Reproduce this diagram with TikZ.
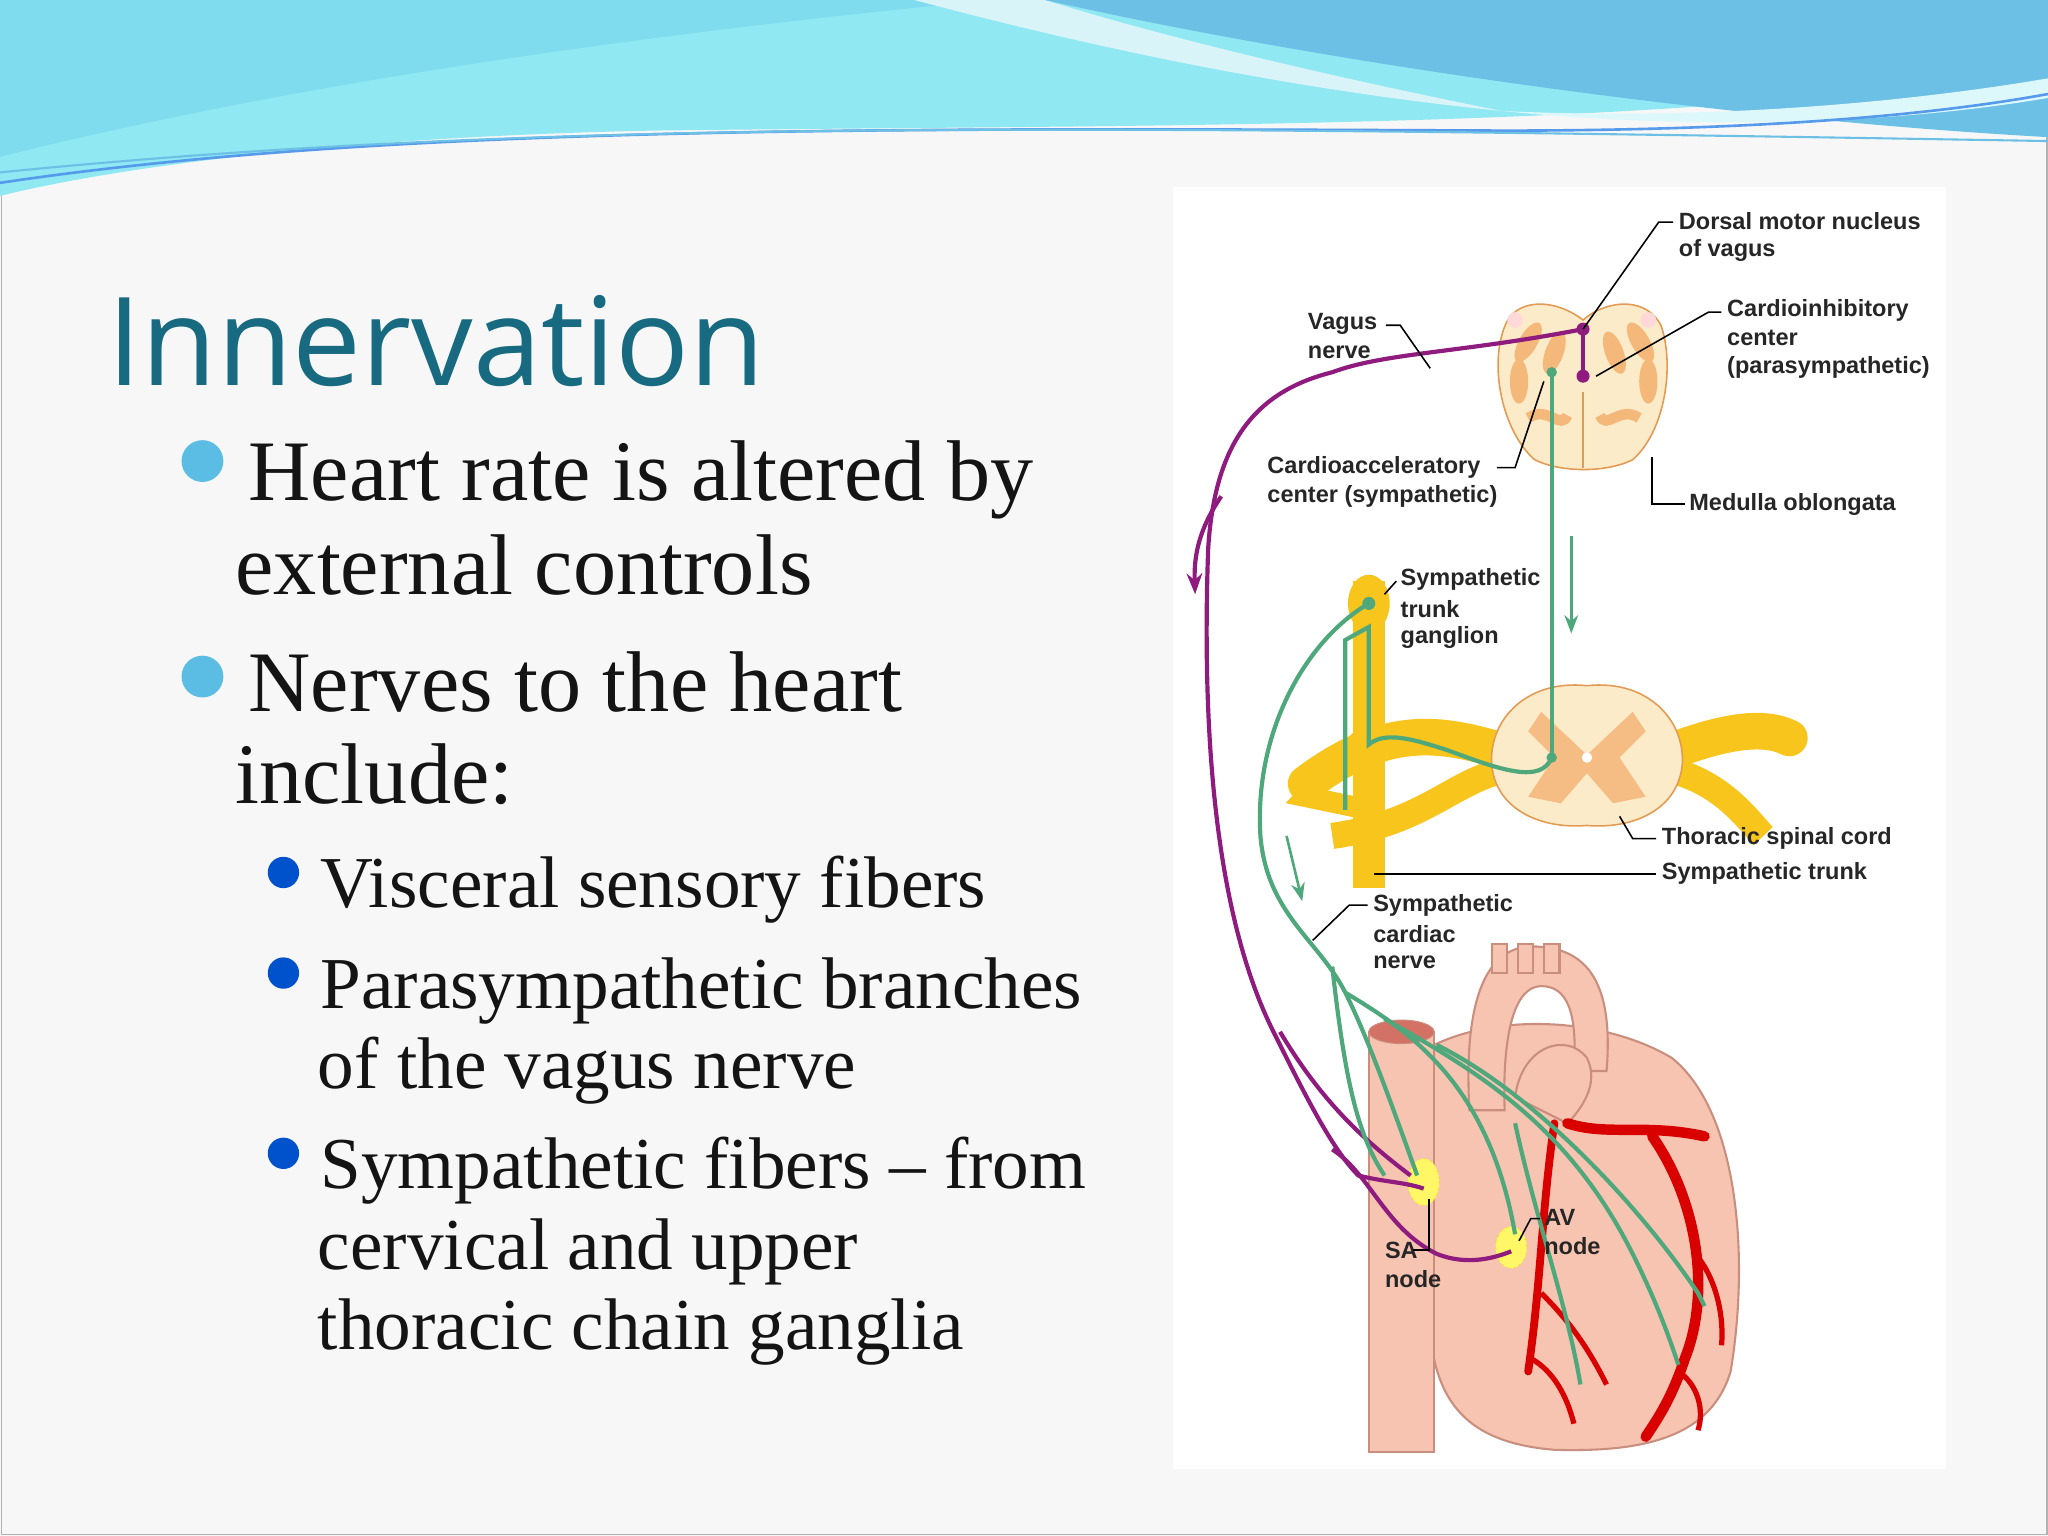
\documentclass[tikz,border=0pt]{standalone}
\usepackage{fontspec}
\setmainfont{Liberation Serif}
\newfontfamily\titlefont{Open Sans}
\newfontfamily\lab{Liberation Sans}
\usetikzlibrary{arrows.meta,decorations.pathmorphing}
\definecolor{purp}{HTML}{8E1B7D}
\definecolor{grn}{HTML}{4FA87C}
\definecolor{ylw}{HTML}{F8C51C}
\definecolor{cream}{HTML}{FBEBC8}
\definecolor{org}{HTML}{F2A65A}
\definecolor{pinkh}{HTML}{F7C4B2}
\definecolor{pinko}{HTML}{C98E7E}
\definecolor{ttl}{HTML}{176A80}
\definecolor{hc1}{HTML}{8FE8F2}
\definecolor{hc2}{HTML}{7FDCEE}
\definecolor{hc3}{HTML}{6CC0E6}
\definecolor{hc4}{HTML}{D9F4F8}
\tikzset{
 lbl/.style={font=\lab\bfseries\fontsize{9}{10}\selectfont, anchor=west, inner sep=0pt, text=black!85},
 lead/.style={draw=black, line width=0.6pt},
 pn/.style={draw=purp, line width=1.6pt},
 gn/.style={draw=grn, line width=1.6pt},
 body/.style={anchor=base west, inner sep=0pt, text=black!92},
}
\begin{document}
\begin{tikzpicture}[x=0.5pt,y=-0.5pt]
\useasboundingbox (0,0) rectangle (1568,1176);
\fill[gray!6] (0,0) rectangle (1568,1176);
\draw[gray!60, line width=0.6pt] (1,1) rectangle (1567,1175);
% header
\fill[hc1] (0,0) -- (1568,0) -- (1568,50) .. controls (1300,100) and (900,95) .. (500,100) .. controls (250,105) and (80,130) .. (0,150) -- cycle;
\fill[hc2] (0,120) .. controls (200,70) and (450,30) .. (760,0) -- (0,0) -- cycle;
\fill[hc4] (700,0) .. controls (850,40) and (1000,70) .. (1150,85) .. controls (1000,55) and (880,25) .. (800,0) -- cycle;
\fill[hc3] (800,0) .. controls (1000,45) and (1300,90) .. (1568,105) -- (1568,0) -- cycle;
\fill[white!70!hc1] (1150,85) .. controls (1300,92) and (1450,80) .. (1568,60) -- (1568,75) .. controls (1450,95) and (1300,100) .. (1150,85) -- cycle;
\draw[hc3!80!blue, line width=1pt] (0,140) .. controls (300,95) and (700,98) .. (1150,100) .. controls (1350,100) and (1480,88) .. (1568,72);
\draw[hc3, line width=0.8pt] (0,132) .. controls (400,92) and (800,95) .. (1568,108);
% title & text
\node[body, font=\titlefont\fontsize{47}{52}\selectfont, text=ttl] (t) at (82,295) {Innervation};
\fill[cyan!75!teal!70!white] (155,353) circle (16);
\fill[cyan!75!teal!70!white] (155,518) circle (16);
\fill[blue!60!cyan!80!black] (217,668) circle (12);
\fill[blue!60!cyan!80!black] (217,745) circle (12);
\fill[blue!60!cyan!80!black] (217,883) circle (12);
\begin{scope}[font=\fontsize{33}{36}\selectfont]
\node[body] at (190,383) {Heart rate is altered by};
\node[body] at (180,455) {external controls};
\node[body] at (190,545) {Nerves to the heart};
\node[body] at (180,615) {include:};
\end{scope}
\begin{scope}[font=\fontsize{28}{32}\selectfont]
\node[body] at (245,695) {Visceral sensory fibers};
\node[body] at (245,772) {Parasympathetic branches};
\node[body] at (243,833) {of the vagus nerve};
\node[body] at (245,910) {Sympathetic fibers -- from};
\node[body] at (243,972) {cervical and upper};
\node[body] at (243,1033) {thoracic chain ganglia};
\end{scope}
% figure panel
\fill[white] (898,143) rectangle (1490,1125);
% medulla
\fill[cream, draw=org!70!brown, line width=0.6pt] (1212,245) .. controls (1190,228) and (1160,228) .. (1152,250) .. controls (1140,280) and (1150,330) .. (1175,352) .. controls (1195,362) and (1230,362) .. (1250,352) .. controls (1275,330) and (1282,280) .. (1272,250) .. controls (1262,228) and (1232,228) .. (1212,245) -- cycle;
\draw[org!70!brown, line width=0.5pt] (1212,300) -- (1212,358);
\foreach \x/\y/\r in {1170/262/-30,1190/270/-20,1236/270/20,1256/262/30,1163/292/0,1262/292/0}
  \fill[org!80] (\x,\y) ellipse [x radius=7, y radius=17, rotate=\r];
\draw[org!80, line width=4pt] (1170,320) .. controls (1185,310) and (1195,330) .. (1200,318);
\draw[org!80, line width=4pt] (1255,320) .. controls (1240,310) and (1230,330) .. (1225,318);
\fill[pink!60] (1160,245) circle (6); \fill[pink!60] (1262,245) circle (6);
% spinal nerves & trunk
\draw[ylw, line width=14pt, line cap=round] (1150,575) .. controls (1100,560) and (1060,555) .. (1000,600);
\draw[ylw, line width=14pt, line cap=round] (1280,575) .. controls (1320,560) and (1350,555) .. (1370,565);
\draw[ylw, line width=10pt] (1150,590) .. controls (1110,600) and (1090,630) .. (1020,640);
\draw[ylw, line width=10pt] (1280,590) .. controls (1320,600) and (1340,630) .. (1350,640);
\draw[ylw, line width=12pt] (1048,445) -- (1048,680);
\fill[ylw] (1048,462) ellipse [x radius=16, y radius=22];
\draw[ylw, line width=8pt] (1048,560) -- (1000,610) -- (1048,620);
% spinal cord
\fill[cream, draw=org!70!brown, line width=0.6pt] (1215,525) .. controls (1260,520) and (1290,550) .. (1288,585) .. controls (1285,620) and (1250,635) .. (1215,632) .. controls (1180,635) and (1145,620) .. (1142,585) .. controls (1140,550) and (1170,520) .. (1215,525) -- cycle;
\fill[org!75] (1215,578) -- (1180,545) -- (1170,560) -- (1190,580) -- (1170,610) -- (1195,615) -- (1215,592) -- (1235,615) -- (1260,610) -- (1240,580) -- (1260,560) -- (1250,545) -- cycle;
\fill[white] (1215,580) circle (4);
% heart
\fill[pinkh, draw=pinko, line width=0.8pt] (1098,800) .. controls (1150,775) and (1230,780) .. (1280,810) .. controls (1330,850) and (1340,960) .. (1325,1050) .. controls (1310,1100) and (1260,1112) .. (1190,1110) .. controls (1130,1105) and (1100,1080) .. (1095,1020) -- cycle;
\fill[pinkh, draw=pinko, line width=0.8pt] (1048,790) rectangle (1098,1112);
\fill[pinko!80!red, draw=pinko] (1073,790) ellipse [x radius=25, y radius=9];
\fill[pinkh, draw=pinko, line width=0.8pt] (1125,850) .. controls (1120,760) and (1140,720) .. (1180,725) .. controls (1220,728) and (1235,760) .. (1230,820) -- (1205,820) .. controls (1208,775) and (1200,755) .. (1180,755) .. controls (1160,755) and (1150,790) .. (1152,850) -- cycle;
\foreach \x in {1142,1162,1182}
  \fill[pinkh, draw=pinko, line width=0.8pt] (\x,745) rectangle ++(12,-22);
\fill[pinkh, draw=pinko, line width=0.8pt] (1160,840) .. controls (1165,800) and (1200,790) .. (1215,810) .. controls (1225,830) and (1210,850) .. (1200,860) -- cycle;
% coronary arteries
\draw[red!85!black, line width=4pt, line cap=round] (1200,860) .. controls (1230,870) and (1260,860) .. (1305,870);
\draw[red!85!black, line width=4pt, line cap=round] (1265,870) .. controls (1300,920) and (1310,990) .. (1290,1040) .. controls (1280,1070) and (1270,1085) .. (1260,1100);
\draw[red!85!black, line width=3pt, line cap=round] (1190,860) .. controls (1180,930) and (1180,980) .. (1170,1050);
\draw[red!85!black, line width=2pt] (1180,990) .. controls (1200,1010) and (1215,1030) .. (1230,1060);
\draw[red!85!black, line width=2pt] (1172,1040) .. controls (1190,1050) and (1200,1070) .. (1205,1090);
\draw[red!85!black, line width=2pt] (1298,960) .. controls (1315,980) and (1320,1010) .. (1318,1030);
\draw[red!85!black, line width=2pt] (1285,1050) .. controls (1300,1060) and (1305,1080) .. (1300,1095);
% SA AV nodes
\fill[yellow!60, draw=yellow!70!orange, dotted] (1090,905) ellipse [x radius=12, y radius=18];
\fill[yellow!60, draw=yellow!70!orange, dotted] (1157,955) ellipse [x radius=12, y radius=16];
\coordinate (sa) at (1090,910); \coordinate (av) at (1157,958);
% coordinates
\coordinate (dmn) at (1212,252); \coordinate (ci) at (1212,288);
\coordinate (ca) at (1188,285); \coordinate (gang) at (1048,462); \coordinate (cord) at (1188,580);
% vagus (purple)
\draw[pn] (ci) -- (dmn);
\fill[purp] (dmn) circle (5); \fill[purp] (ci) circle (5);
\draw[pn] (dmn) .. controls (1120,270) and (1060,270) .. (1020,285) .. controls (960,300) and (930,340) .. (925,420) .. controls (920,560) and (930,700) .. (975,790) .. controls (1000,840) and (1020,880) .. (1040,900) .. controls (1060,905) and (1075,905) .. (sa);
\draw[pn] (1020,880) .. controls (1050,900) and (1060,940) .. (1100,960) .. controls (1120,968) and (1140,965) .. (av);
\draw[pn] (980,790) .. controls (1010,840) and (1040,870) .. (1080,900);
\draw[pn, -{Stealth[length=8pt]}] (935,380) .. controls (918,405) and (914,425) .. (915,455);
% sympathetic (green)
\draw[gn] (ca) -- (cord);
\fill[grn] (ca) circle (4); \fill[grn] (cord) circle (4);
\draw[gn] (cord) .. controls (1180,600) and (1150,590) .. (1110,575) .. controls (1080,565) and (1060,560) .. (1048,570) -- (1048,480) -- (1030,490) -- (1030,620);
\draw[gn] (gang) .. controls (1000,490) and (960,560) .. (965,640) .. controls (970,700) and (1010,720) .. (1030,760) .. controls (1045,790) and (1060,830) .. (1085,900);
\draw[gn] (1030,760) .. controls (1080,790) and (1140,830) .. (1160,945);
\draw[gn] (1060,780) .. controls (1130,820) and (1200,860) .. (1250,960) .. controls (1270,1000) and (1280,1030) .. (1285,1045);
\draw[gn] (1100,800) .. controls (1180,840) and (1260,930) .. (1300,990) -- (1305,1000);
\draw[gn] (1160,860) .. controls (1175,930) and (1200,1000) .. (1210,1060);
\draw[gn] (1020,740) .. controls (1030,830) and (1040,870) .. (1060,900);
\draw[grn, line width=1pt, -{Stealth[length=7pt]}] (1203,410) -- (1203,485);
\draw[grn, line width=1pt, -{Stealth[length=7pt]}] (985,640) -- (997,690);
\fill[grn] (gang) circle (5);
% labels
\node[lbl] (l1) at (1285,169) {Dorsal motor nucleus};
\node[lbl] at (1285,192) {of vagus};
\draw[lead] (1281,170) -- (1270,170) -- (dmn);
\node[lbl] (l2) at (1322,238) {Cardioinhibitory};
\node[lbl] at (1322,259) {center};
\node[lbl] at (1322,281) {(parasympathetic)};
\draw[lead] (1318,239) -- (1308,239) -- (1222,288);
\node[lbl] (l3) at (1001,248) {Vagus};
\node[lbl] at (1001,270) {nerve};
\draw[lead] (1061,249) -- (1072,249) -- (1095,282);
\node[lbl] (l4) at (970,358) {Cardioacceleratory};
\node[lbl] at (970,380) {center (sympathetic)};
\draw[lead] (1146,358) -- (1160,358) -- (1182,292);
\node[lbl] (l5) at (1293,386) {Medulla oblongata};
\draw[lead] (1290,386) -- (1265,386) -- (1265,350);
\node[lbl] (l6) at (1072,444) {Sympathetic};
\node[lbl] at (1072,466) {trunk};
\node[lbl] at (1072,488) {ganglion};
\draw[lead] (1069,445) -- (1060,455);
\node[lbl] (l7) at (1272,642) {Thoracic spinal cord};
\draw[lead] (1268,642) -- (1250,642) -- (1240,625);
\node[lbl] (l8) at (1272,669) {Sympathetic trunk};
\draw[lead] (1268,669) -- (1052,669);
\node[lbl] (l9) at (1051,693) {Sympathetic};
\node[lbl] at (1051,715) {cardiac};
\node[lbl] at (1051,737) {nerve};
\draw[lead] (1047,693) -- (1033,693) -- (1005,720);
\node[lbl] (l10) at (1060,957) {SA};
\node[lbl] at (1060,979) {node};
\draw[lead] (1082,957) -- (1094,957) -- (1094,918);
\node[lbl] (l11) at (1182,932) {AV};
\node[lbl] at (1182,954) {node};
\draw[lead] (1179,933) -- (1172,933) -- (1163,950);
\end{tikzpicture}
\end{document}
